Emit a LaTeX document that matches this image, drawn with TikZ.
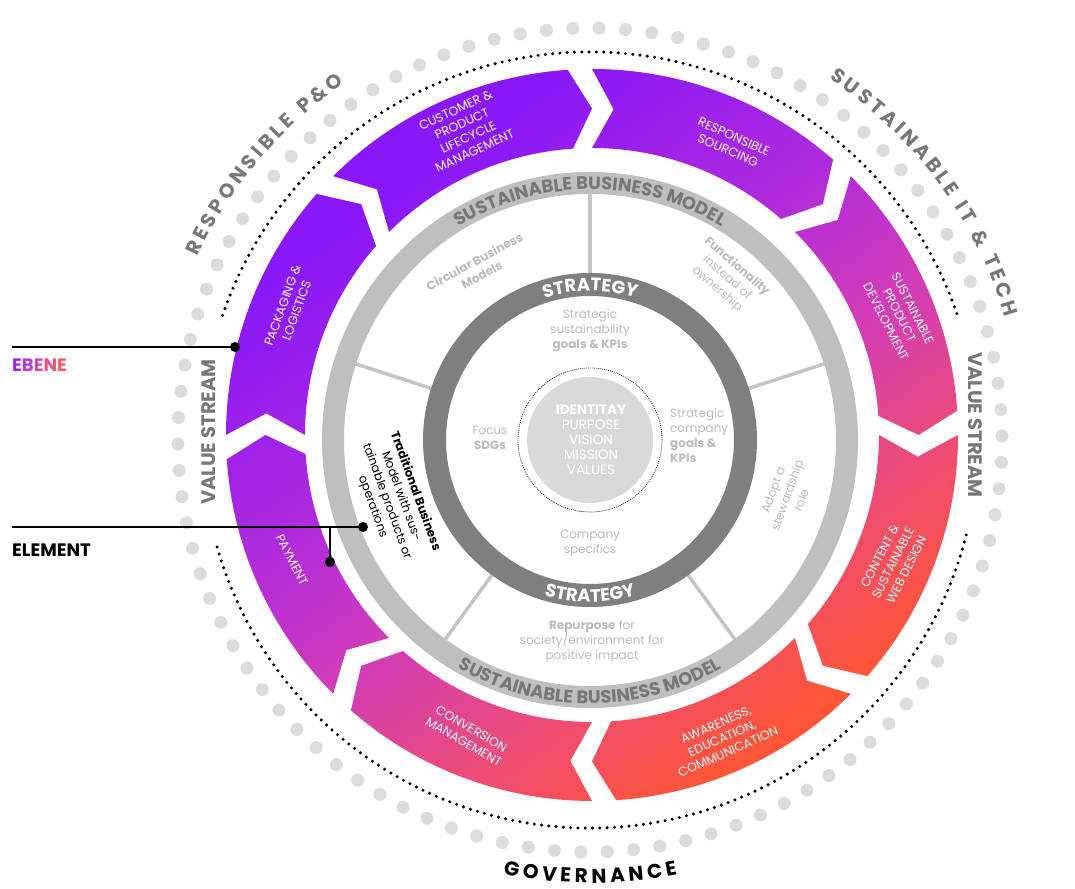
\documentclass[tikz,border=0pt]{standalone}
\usepackage{fontspec}
\setmainfont{Poppins}
\usetikzlibrary{decorations.text,calc}
\definecolor{dkgray}{HTML}{7F7F7F}
\definecolor{ringgray}{HTML}{BFBFBF}
\definecolor{spokegray}{HTML}{C4C4C4}
\definecolor{idgray}{HTML}{D9D9D9}
\definecolor{txtgray}{HTML}{BBBBBB}
\definecolor{lblgray}{HTML}{777777}
\definecolor{dotgray}{HTML}{DCDCDC}
\definecolor{gA}{HTML}{8414F8}
\definecolor{gB}{HTML}{8A18F6}
\definecolor{gC}{HTML}{AD2ADE}
\definecolor{gD}{HTML}{D03CBA}
\definecolor{gE}{HTML}{EC4C78}
\definecolor{gF}{HTML}{FF5538}
\definecolor{gG}{HTML}{FF5530}
\definecolor{eb1}{HTML}{9B25F0}
\definecolor{eb2}{HTML}{B738D6}
\definecolor{eb3}{HTML}{D546B0}
\definecolor{eb4}{HTML}{EE4F88}
\definecolor{eb5}{HTML}{FA5A55}
\pgfdeclarehorizontalshading{ringshade}{100bp}{color(0bp)=(gA); color(15.5bp)=(gA); color(29bp)=(gB); color(43bp)=(gC); color(53.5bp)=(gD); color(64bp)=(gE); color(74bp)=(gF); color(84.5bp)=(gG); color(100bp)=(gG)}
\tikzset{
  arrowlbl/.style={text=white, align=center, inner sep=0, font=\fontsize{12.5}{15}\selectfont},
  midlbl/.style={text=txtgray, align=center, inner sep=0, font=\fontsize{12}{15}\selectfont},
  idlbl/.style={text=white, align=center, inner sep=0, font=\fontsize{13.5}{15}\selectfont},
  vslbl/.style={text=lblgray, inner sep=0, font=\bfseries\fontsize{19.5}{20}\selectfont},
  legline/.style={line width=1.3pt, black},
  legdot/.style={circle, fill=black, inner sep=0, minimum size=10pt},
  legtxt/.style={anchor=base west, inner sep=0, font=\bfseries\fontsize{18}{18}\selectfont},
  bigdots/.style={line width=3.4pt, line cap=round, dash pattern=on 0pt off 7.3pt},
}
\begin{document}
\begin{tikzpicture}[x=1pt,y=1pt]
\useasboundingbox (0,0) rectangle (1075,888);
\fill[white] (0,0) rectangle (1075,888);
\coordinate (C) at (590,448);
\coordinate (A) at (592,453);
% grey dot ring
\foreach \k in {0,...,97} \fill[dotgray] ($(C)+({92.4+\k*3.6735}:412)$) circle (6.5);
% black dotted arcs
\draw[bigdots] ($(C)+(19:388)$) arc[start angle=19, end angle=161.5, radius=388];
\draw[bigdots] ($(C)+(196:388)$) arc[start angle=196, end angle=346, radius=388];
% outer curved labels
\path[decorate, decoration={text along path, text align={fit to path}, text={|\color{lblgray}\bfseries\fontsize{20}{20}\selectfont|RESPONSIBLE P{\&}O}}]
  ($(C)+(155:433)$) arc[start angle=155, end angle=124.5, radius=433];
\path[decorate, decoration={text along path, text align={fit to path}, text={|\color{lblgray}\bfseries\fontsize{20}{20}\selectfont|SUSTAINABLE IT {\&} TECH}}]
  ($(C)+(56.5:433)$) arc[start angle=56.5, end angle=16.5, radius=433];
\path[decorate, decoration={text along path, text align={fit to path}, text={|\color{black}\bfseries\fontsize{20}{20}\selectfont|GOVERNANCE}}]
  ($(C)+(258.7:443)$) arc[start angle=258.7, end angle=281.4, radius=443];
\node[vslbl, rotate=90] (vsl) at (209,456) {VALUE STREAM};
\node[vslbl, rotate=-90] (vsr) at (975,463) {VALUE STREAM};
% arrow ring
\shade[shading=ringshade, shading angle=-55]
  \foreach \T in {180,135,90,45,0,-45,-90,-135} {
    ($(A)+(\T:366)$) arc[start angle=\T, end angle={\T-41.2}, radius=366]
    -- ($(A)+({\T-45}:326.5)$) -- ($(A)+({\T-41.2}:287)$)
    arc[start angle={\T-41.2}, end angle=\T, radius=287]
    -- ($(A)+({\T-3.8}:326.5)$) -- cycle
  };
\node[arrowlbl, rotate=25] (a1) at ($(A)+(112.6:330)$) {CUSTOMER \&\\PRODUCT\\LIFECYCLE\\MANAGEMENT};
\node[arrowlbl, rotate=-24] (a2) at ($(A)+(64.5:323)$) {RESPONSIBLE\\SOURCING};
\node[arrowlbl, rotate=-63] (a3) at ($(A)+(21.3:330)$) {SUSTAINABLE\\PRODUCT\\DEVELOPMENT};
\node[arrowlbl, rotate=63] (a4) at ($(A)+(-23:327)$) {CONTENT \&\\SUSTAINABLE\\WEB DESIGN};
\node[arrowlbl, rotate=24] (a5) at ($(A)+(-66.8:330)$) {AWARENESS,\\EDUCATION,\\COMMUNICATION};
\node[arrowlbl, rotate=-30] (a6) at ($(A)+(-112.5:325)$) {CONVERSION\\MANAGEMENT};
\node[arrowlbl, rotate=-63] (a7) at ($(A)+(-157.4:325)$) {PAYMENT};
\node[arrowlbl, rotate=70] (a8) at ($(A)+(157.2:328)$) {PACKAGING \&\\LOGISTICS};
% sustainable business model ring
\draw[ringgray, line width=22pt] (C) circle (257);
\foreach \a in {18,90,162,234,306} \draw[spokegray, line width=3.5pt] ($(C)+(\a:166)$) -- ($(C)+(\a:247)$);
\path[decorate, decoration={text along path, text align=center, text={|\color{lblgray}\bfseries\fontsize{18}{18}\selectfont|SUSTAINABLE BUSINESS MODEL}}]
  ($(C)+(140:250.5)$) arc[start angle=140, end angle=40, radius=250.5];
\path[decorate, decoration={text along path, text align=center, text={|\color{lblgray}\bfseries\fontsize{18}{18}\selectfont|SUSTAINABLE BUSINESS MODEL}}]
  ($(C)+(220:263.5)$) arc[start angle=220, end angle=320, radius=263.5];
% strategy ring
\draw[dkgray, line width=23pt] (C) circle (155.5);
\path[decorate, decoration={text along path, text align=center, text={|\color{white}\bfseries\fontsize{18}{18}\selectfont|STRATEGY}}]
  ($(C)+(150:149)$) arc[start angle=150, end angle=30, radius=149];
\path[decorate, decoration={text along path, text align=center, text={|\color{white}\bfseries\fontsize{18}{18}\selectfont|STRATEGY}}]
  ($(C)+(210:162)$) arc[start angle=210, end angle=330, radius=162];
% identity
\fill[idgray] (C) circle (63);
\draw[black, line width=0.8pt, dash pattern=on 0.8pt off 1.2pt] (C) circle (72);
\node[idlbl] (ident) at (591,448.5) {\textbf{IDENTITAY}\\PURPOSE\\VISION\\MISSION\\VALUES};
% inner labels
\node[midlbl] (s1) at (590,557) {Strategic\\sustainability\\\textbf{goals \& KPIs}};
\node[midlbl] (s2) at (490,450) {Focus\\\textbf{SDGs}};
\node[midlbl, align=left, anchor=west] (s3) at (670,453) {Strategic\\company\\\textbf{goals \&}\\\textbf{KPIs}};
\node[midlbl] (s4) at (590,345) {Company\\specifics};
% segment labels
\node[midlbl, rotate=28.5] (m1) at (478,620) {\textbf{Circular Business}\\\textbf{Models}};
\node[midlbl, rotate=-41] (m2) at (727,610) {\textbf{Functionality}\\instead of\\ownership};
\node[midlbl, rotate=70] (m3) at (787,393) {Adopt a\\stewardship\\role};
\node[midlbl] (m4) at (592,246.5) {\textbf{Repurpose} for\\society/environment for\\positive impact};
\node[midlbl, text=black, rotate=-70] (m5) at (394,389) {\textbf{Traditional Business}\\Model with sus-\\tainable products or\\operations};
% legend
\coordinate (l1s) at (12,541);
\node[legdot] (d1) at (235,541) {};
\draw[legline] (l1s) -- (d1.center);
\node[legtxt] (ebene) at (12,516) {\textcolor{eb1}{E}\textcolor{eb2}{B}\textcolor{eb3}{E}\textcolor{eb4}{N}\textcolor{eb5}{E}};
\coordinate (l2s) at (12,361);
\node[legdot] (d2) at (363,361) {};
\node[legdot] (d3) at (330,326) {};
\coordinate (l2b) at (330,361);
\draw[legline] (l2s) -- (d2.center);
\draw[legline] (l2b) -- (d3.center);
\node[legtxt] (element) at (12,331) {ELEMENT};
\end{tikzpicture}
\end{document}
